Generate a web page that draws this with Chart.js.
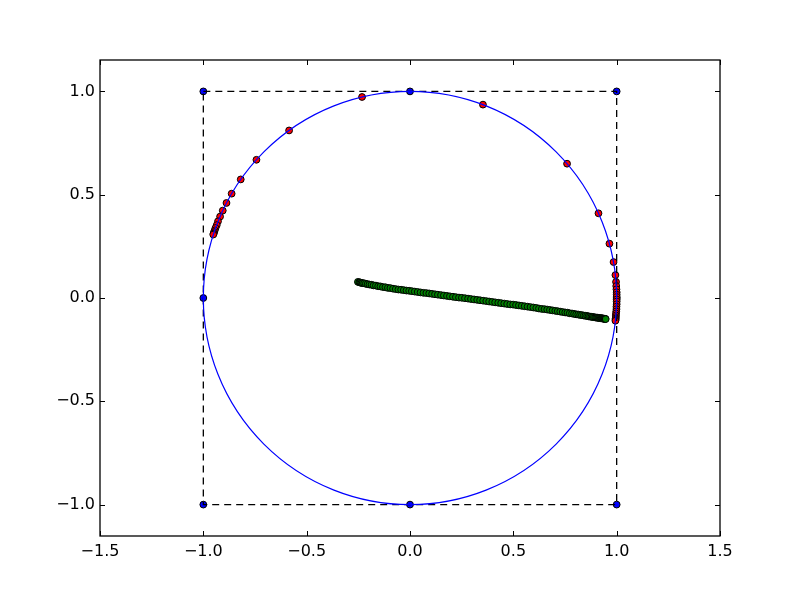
<!DOCTYPE html>
<html>
<head>
<meta charset="utf-8">
<script src="https://cdn.jsdelivr.net/npm/chart.js@4.4.0/dist/chart.umd.min.js"></script>
<style>
  html, body { margin: 0; padding: 0; background: #fff; }
  #plot { display: block; }
</style>
</head>
<body>
<canvas id="plot" width="800" height="597"></canvas>
<script>
// axis ticks
const xTicks = [-1.5, -1.0, -0.5, 0.0, 0.5, 1.0, 1.5];
const yTicks = [-1.0, -0.5, 0.0, 0.5, 1.0];
const xRange = [-1.5, 1.5];
const yRange = [-1.152, 1.152];

// unit circle (centre and radius in data units)
const circleCentre = [0, 0];
const circleRadius = 1;

// dashed square
const squareX = [-1, 1, 1, -1, -1];
const squareY = [1, 1, -1, -1, 1];

// blue points on the square
const blueX = [-1, 0, 1, -1, 1, -1, 0, 1];
const blueY = [1, 1, 1, 0, 0, -1, -1, -1];

// red points on the circle
const redX = [-0.232, -0.585, -0.743, -0.819, -0.863, -0.888, -0.906, -0.919, -0.929, -0.935,
  -0.941, -0.945, -0.948, -0.950, -0.952,
  0.353, 0.760, 0.912, 0.965, 0.985, 0.994, 0.997, 0.998, 0.999, 1.000, 1.000, 1.000,
  1.000, 1.000, 1.000, 0.999, 0.999, 0.998, 0.997, 0.996, 0.996, 0.995, 0.995, 0.994];
const redY = [0.973, 0.811, 0.669, 0.574, 0.505, 0.460, 0.423, 0.394, 0.371, 0.353,
  0.339, 0.327, 0.319, 0.312, 0.307,
  0.936, 0.650, 0.410, 0.263, 0.174, 0.111, 0.078, 0.058, 0.042, 0.028, 0.016, 0.005,
  -0.007, -0.017, -0.030, -0.042, -0.054, -0.065, -0.075, -0.084, -0.092, -0.099, -0.105, -0.110];

// green points
const greenX = [-0.252, -0.245, -0.240, -0.235, -0.229, -0.222, -0.214, -0.205, -0.196, -0.186,
  -0.176, -0.165, -0.154, -0.143, -0.131, -0.119, -0.107, -0.095, -0.082, -0.069,
  -0.056, -0.043, -0.030, -0.017, -0.004, 0.009, 0.023, 0.037, 0.051, 0.065,
  0.079, 0.093, 0.107, 0.121, 0.135, 0.150, 0.164, 0.179, 0.193, 0.208,
  0.222, 0.237, 0.251, 0.266, 0.281, 0.295, 0.310, 0.325, 0.339, 0.354,
  0.369, 0.383, 0.398, 0.412, 0.427, 0.441, 0.456, 0.470, 0.485, 0.499,
  0.513, 0.527, 0.541, 0.555, 0.569, 0.583, 0.597, 0.611, 0.624, 0.638,
  0.651, 0.664, 0.677, 0.690, 0.703, 0.715, 0.727, 0.739, 0.751, 0.762,
  0.773, 0.784, 0.794, 0.804, 0.814, 0.823, 0.832, 0.841, 0.849, 0.857,
  0.864, 0.871, 0.878, 0.884, 0.890, 0.896, 0.901, 0.906, 0.911, 0.915,
  0.919, 0.923, 0.927, 0.930, 0.933, 0.936, 0.939, 0.941, 0.943, 0.945, 0.947];
const greenY = [0.078, 0.076, 0.075, 0.073, 0.072, 0.071, 0.069, 0.067, 0.065, 0.064,
  0.061, 0.060, 0.057, 0.056, 0.053, 0.052, 0.049, 0.048, 0.045, 0.043,
  0.041, 0.040, 0.038, 0.036, 0.035, 0.033, 0.031, 0.029, 0.027, 0.025,
  0.024, 0.022, 0.020, 0.018, 0.016, 0.014, 0.012, 0.010, 0.008, 0.006,
  0.004, 0.002, 0.001, -0.001, -0.003, -0.005, -0.007, -0.009, -0.011, -0.013,
  -0.015, -0.017, -0.019, -0.021, -0.023, -0.025, -0.027, -0.029, -0.031, -0.032,
  -0.034, -0.036, -0.038, -0.040, -0.042, -0.044, -0.046, -0.048, -0.051, -0.053,
  -0.054, -0.056, -0.058, -0.060, -0.062, -0.064, -0.066, -0.068, -0.070, -0.071,
  -0.074, -0.075, -0.077, -0.079, -0.080, -0.082, -0.083, -0.085, -0.086, -0.087,
  -0.089, -0.090, -0.091, -0.092, -0.093, -0.094, -0.095, -0.095, -0.096, -0.097,
  -0.097, -0.098, -0.098, -0.099, -0.099, -0.100, -0.100, -0.101, -0.101, -0.101, -0.102];

function toPoints(xs, ys) {
  return xs.map((x, i) => ({ x: x, y: ys[i] }));
}

function fmt(v) {
  return v.toFixed(1).replace('-', '\u2212');
}

// circle + frame + inward ticks, drawn on top like matplotlib lines
const framePlugin = {
  id: 'frame',
  afterDatasetsDraw(chart) {
    const ctx = chart.ctx;
    const xs = chart.scales.x, ys = chart.scales.y;
    const cx = xs.getPixelForValue(circleCentre[0]);
    const cy = ys.getPixelForValue(circleCentre[1]);
    const rx = xs.getPixelForValue(circleCentre[0] + circleRadius) - cx;
    const ry = cy - ys.getPixelForValue(circleCentre[1] + circleRadius);
    ctx.save();
    ctx.strokeStyle = '#0000ff';
    ctx.lineWidth = 1.2;
    ctx.beginPath();
    ctx.ellipse(cx, cy, rx, ry, 0, 0, Math.PI * 2);
    ctx.stroke();
    ctx.restore();
  },
  afterDraw(chart) {
    const ctx = chart.ctx;
    const a = chart.chartArea;
    const xs = chart.scales.x, ys = chart.scales.y;
    const len = 5;
    ctx.save();
    ctx.strokeStyle = '#000';
    ctx.lineWidth = 1;
    xTicks.forEach(t => {
      const px = Math.round(xs.getPixelForValue(t)) + 0.5;
      ctx.beginPath();
      ctx.moveTo(px, a.bottom); ctx.lineTo(px, a.bottom - len);
      ctx.moveTo(px, a.top); ctx.lineTo(px, a.top + len);
      ctx.stroke();
    });
    yTicks.forEach(t => {
      const py = Math.round(ys.getPixelForValue(t)) + 0.5;
      ctx.beginPath();
      ctx.moveTo(a.left, py); ctx.lineTo(a.left + len, py);
      ctx.moveTo(a.right, py); ctx.lineTo(a.right - len, py);
      ctx.stroke();
    });
    ctx.lineWidth = 1.3;
    ctx.strokeRect(a.left, a.top, a.right - a.left, a.bottom - a.top);
    ctx.restore();
  }
};

const markerStyle = (fill) => ({
  showLine: false,
  pointRadius: 3.4,
  pointHoverRadius: 3.4,
  pointBackgroundColor: fill,
  pointBorderColor: '#000',
  pointBorderWidth: 1
});

new Chart(document.getElementById('plot'), {
  type: 'scatter',
  data: {
    datasets: [
      {
        data: toPoints(squareX, squareY),
        showLine: true,
        borderColor: '#000',
        borderWidth: 1.3,
        borderDash: [7, 5],
        pointRadius: 0,
        fill: false,
        order: 0
      },
      Object.assign({ data: toPoints(greenX, greenY), order: 1 }, markerStyle('#008000')),
      Object.assign({ data: toPoints(redX, redY), order: 2 }, markerStyle('#ff0000')),
      Object.assign({ data: toPoints(blueX, blueY), order: 3 }, markerStyle('#0000ff'))
    ]
  },
  options: {
    responsive: false,
    animation: false,
    events: [],
    layout: { padding: { top: 60, right: 80, left: 0, bottom: 0 } },
    plugins: { legend: { display: false }, tooltip: { enabled: false } },
    scales: {
      x: {
        type: 'linear',
        min: xRange[0],
        max: xRange[1],
        grid: { display: false, drawTicks: false },
        border: { display: false },
        afterBuildTicks: (s) => { s.ticks = xTicks.map(v => ({ value: v })); },
        afterFit: (s) => { s.height = 61; },
        ticks: {
          padding: 6,
          color: '#000',
          maxRotation: 0,
          font: { family: 'DejaVu Sans', size: 16 },
          callback: (v) => fmt(v)
        }
      },
      y: {
        type: 'linear',
        min: yRange[0],
        max: yRange[1],
        grid: { display: false, drawTicks: false },
        border: { display: false },
        afterBuildTicks: (s) => { s.ticks = yTicks.map(v => ({ value: v })); },
        afterFit: (s) => { s.width = 100; },
        ticks: {
          padding: 5,
          color: '#000',
          font: { family: 'DejaVu Sans', size: 16 },
          callback: (v) => fmt(v)
        }
      }
    }
  },
  plugins: [framePlugin]
});
</script>
</body>
</html>
